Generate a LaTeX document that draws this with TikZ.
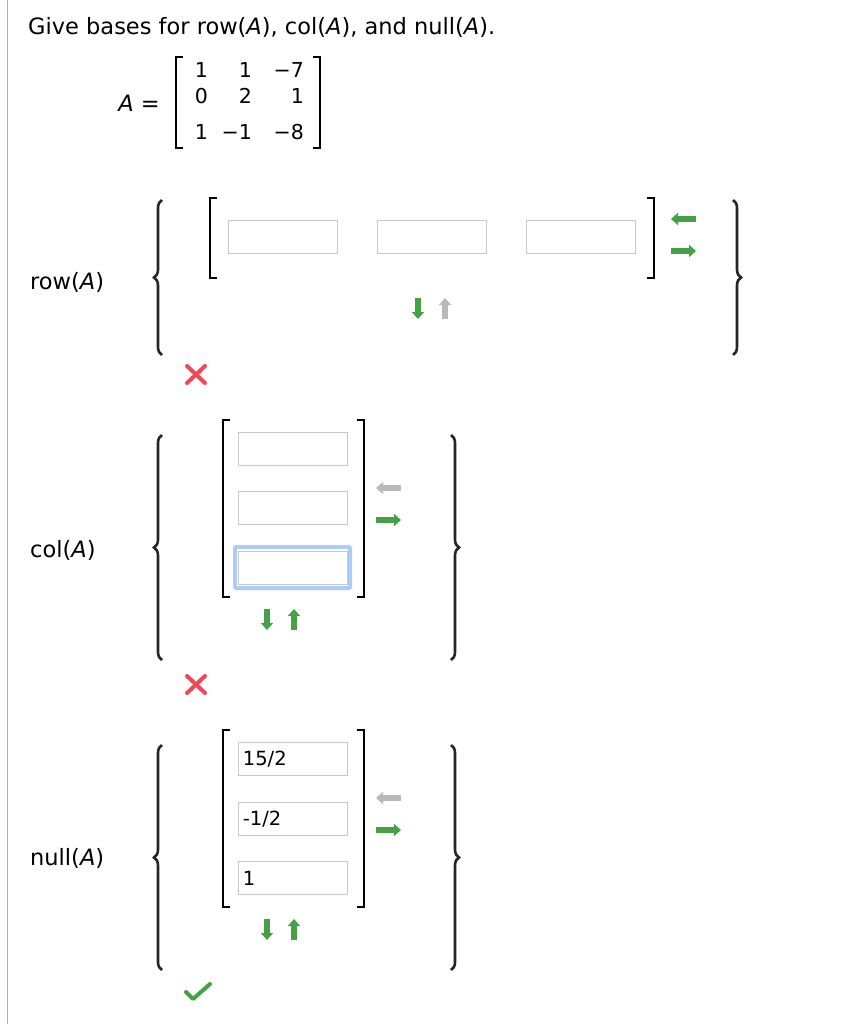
\documentclass[tikz,border=0pt]{standalone}
\usepackage{fontspec}
\setmainfont{DejaVu Sans}
\usetikzlibrary{decorations.pathreplacing,arrows.meta}
\definecolor{boxgray}{RGB}{200,200,200}
\definecolor{agreen}{RGB}{70,160,70}
\definecolor{agray}{RGB}{185,185,185}
\definecolor{xred}{RGB}{240,70,85}
\definecolor{halo}{RGB}{170,205,250}
\tikzset{
 txt/.style={inner sep=0pt,font=\fontsize{22.5}{26}\selectfont},
 ent/.style={inner sep=0pt,font=\fontsize{20.5}{24}\selectfont},
 inbox/.style={draw=boxgray,line width=0.8pt,minimum width=109pt,minimum height=33pt,inner sep=3pt,anchor=north west,text width=100pt,align=left,font=\fontsize{19.5}{23}\selectfont},
 brk/.style={line width=1.4pt,black},
 curly/.style={decorate,decoration={brace,amplitude=8pt},line width=2.6pt,black!85},
 fat/.style={line width=6pt,-{Triangle[width=12pt,length=7pt]}},
 xmark/.style={xred,line width=4pt,line cap=round},
}
\begin{document}
\begin{tikzpicture}[x=1pt,y=-1pt]
\useasboundingbox (0,0) rectangle (853,1024);
\fill[white] (0,0) rectangle (853,1024);
\draw[gray!60,line width=1pt] (7,0) -- (7,1024);
\node[txt,anchor=west] (title) at (28,27) {Give bases for row(\textit{A}), col(\textit{A}), and null(\textit{A}).};
% matrix
\node[txt,anchor=east] (aeq) at (160,103) {\textit{A} =};
\draw[brk] (183,57) -- (176,57) -- (176,148) -- (183,148);
\draw[brk] (313,57) -- (320,57) -- (320,148) -- (313,148);
\node[ent,anchor=east] (m11) at (208,70) {1};
\node[ent,anchor=east] (m12) at (252,70) {1};
\node[ent,anchor=east] (m13) at (304,70) {−7};
\node[ent,anchor=east] (m21) at (208,96) {0};
\node[ent,anchor=east] (m22) at (252,96) {2};
\node[ent,anchor=east] (m23) at (304,96) {1};
\node[ent,anchor=east] (m31) at (208,132) {1};
\node[ent,anchor=east] (m32) at (252,132) {−1};
\node[ent,anchor=east] (m33) at (304,132) {−8};
% ---- row(A)
\node[txt,anchor=west] (rowl) at (30,282) {row(\textit{A})};
\draw[curly] (162,355) -- (162,200);
\draw[curly] (733,200) -- (733,355);
\draw[brk] (217,198) -- (210,198) -- (210,278) -- (217,278);
\draw[brk] (647,198) -- (654,198) -- (654,278) -- (647,278);
\node[inbox] (r1) at (228,220) {};
\node[inbox] (r2) at (377,220) {};
\node[inbox] (r3) at (526,220) {};
\draw[fat,agreen] (696,219) -- (671,219);
\draw[fat,agreen] (671,251) -- (696,251);
\draw[fat,agreen] (418,298) -- (418,319);
\draw[fat,agray] (445,319) -- (445,298);
\draw[xmark] (187,366) -- (205,383) (205,366) -- (187,383);
% ---- col(A)
\node[txt,anchor=west] (coll) at (30,550) {col(\textit{A})};
\draw[curly] (162,660) -- (162,435);
\draw[curly] (451,435) -- (451,660);
\draw[brk] (230,420) -- (223,420) -- (223,597) -- (230,597);
\draw[brk] (357,420) -- (364,420) -- (364,597) -- (357,597);
\node[inbox] (c1) at (238,432) {};
\node[inbox] (c2) at (238,491) {};
\fill[halo,rounded corners=3pt] (233,545) rectangle (352,590);
\fill[white] (237,549) rectangle (348,586);
\node[inbox] (c3) at (238,551) {};
\draw[fat,agray] (401,488) -- (376,488);
\draw[fat,agreen] (376,520) -- (401,520);
\draw[fat,agreen] (267,609) -- (267,630);
\draw[fat,agreen] (294,630) -- (294,609);
\draw[xmark] (187,676) -- (205,693) (205,676) -- (187,693);
% ---- null(A)
\node[txt,anchor=west] (nulll) at (30,858) {null(\textit{A})};
\draw[curly] (162,970) -- (162,745);
\draw[curly] (451,745) -- (451,970);
\draw[brk] (230,730) -- (223,730) -- (223,907) -- (230,907);
\draw[brk] (357,730) -- (364,730) -- (364,907) -- (357,907);
\node[inbox] (n1) at (238,742) {15/2};
\node[inbox] (n2) at (238,802) {-1/2};
\node[inbox] (n3) at (238,861) {1};
\draw[fat,agray] (401,798) -- (376,798);
\draw[fat,agreen] (376,830) -- (401,830);
\draw[fat,agreen] (267,919) -- (267,940);
\draw[fat,agreen] (294,940) -- (294,919);
\draw[agreen,line width=4pt,line cap=round,line join=round] (186,992) -- (193,999) -- (210,984);
\end{tikzpicture}
\end{document}
